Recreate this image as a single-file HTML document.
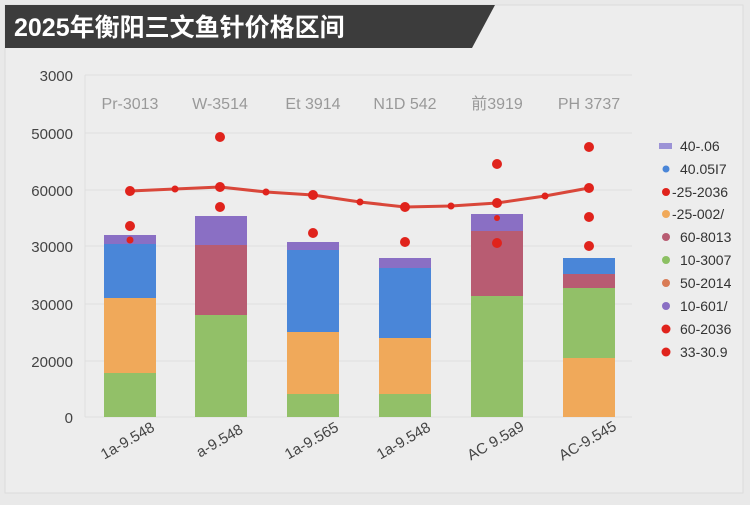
<!DOCTYPE html><html><head><meta charset="utf-8"><style>
body{margin:0;width:750px;height:500px;background:#e9e9e9;font-family:"Liberation Sans","Noto Sans CJK SC",sans-serif;overflow:hidden}
</style></head><body>
<svg width="750" height="500" xmlns="http://www.w3.org/2000/svg" font-family="Liberation Sans, Noto Sans CJK SC, sans-serif">
<rect x="5" y="5" width="738" height="488" fill="#ededed" stroke="#dcdcdc"/>
<polygon points="5,5 495,5 472,48 5,48" fill="#3c3c3c"/>
<text x="14" y="36" font-size="25" font-weight="bold" fill="#fff">2025年衡阳三文鱼针价格区间</text>
<g stroke="#dedede" stroke-width="1">
<line x1="85" y1="75" x2="632" y2="75"/><line x1="85" y1="133" x2="632" y2="133"/><line x1="85" y1="190" x2="632" y2="190"/><line x1="85" y1="246" x2="632" y2="246"/><line x1="85" y1="304" x2="632" y2="304"/><line x1="85" y1="361" x2="632" y2="361"/><line x1="85" y1="417" x2="632" y2="417"/><line x1="85" y1="75" x2="85" y2="417"/>
</g>
<g font-size="15" fill="#444" text-anchor="end">
<text x="73" y="81">3000</text><text x="73" y="139">50000</text><text x="73" y="196">60000</text><text x="73" y="252">30000</text><text x="73" y="310">30000</text><text x="73" y="367">20000</text><text x="73" y="423">0</text>
</g>
<g font-size="16" fill="#999" text-anchor="middle">
<text x="130" y="109">Pr-3013</text><text x="220" y="109">W-3514</text><text x="313" y="109">Et 3914</text><text x="405" y="109">N1D 542</text><text x="497" y="109">前3919</text><text x="589" y="109">PH 3737</text>
</g>
<rect x="104" y="373" width="52" height="44" fill="#92c068"/><rect x="104" y="298" width="52" height="75" fill="#f0a95a"/><rect x="104" y="244" width="52" height="54" fill="#4a86d8"/><rect x="104" y="235" width="52" height="9" fill="#8a6fc4"/>
<rect x="195" y="315" width="52" height="102" fill="#92c068"/><rect x="195" y="245" width="52" height="70" fill="#b85c72"/><rect x="195" y="216" width="52" height="29" fill="#8a6fc4"/>
<rect x="287" y="394" width="52" height="23" fill="#92c068"/><rect x="287" y="332" width="52" height="62" fill="#f0a95a"/><rect x="287" y="250" width="52" height="82" fill="#4a86d8"/><rect x="287" y="242" width="52" height="8" fill="#8a6fc4"/>
<rect x="379" y="394" width="52" height="23" fill="#92c068"/><rect x="379" y="338" width="52" height="56" fill="#f0a95a"/><rect x="379" y="268" width="52" height="70" fill="#4a86d8"/><rect x="379" y="258" width="52" height="10" fill="#8a6fc4"/>
<rect x="471" y="296" width="52" height="121" fill="#92c068"/><rect x="471" y="231" width="52" height="65" fill="#b85c72"/><rect x="471" y="214" width="52" height="17" fill="#8a6fc4"/>
<rect x="563" y="358" width="52" height="59" fill="#f0a95a"/><rect x="563" y="288" width="52" height="70" fill="#92c068"/><rect x="563" y="274" width="52" height="14" fill="#b85c72"/><rect x="563" y="258" width="52" height="16" fill="#4a86d8"/>
<polyline points="130,191 175,189 220,187 266,192 313,195 360,202 405,207 451,206 497,203 545,196 589,188" fill="none" stroke="#d9473a" stroke-width="3"/>
<g fill="#e0231c">
<circle cx="130" cy="191" r="5"/><circle cx="175" cy="189" r="3.5"/><circle cx="220" cy="187" r="5"/><circle cx="266" cy="192" r="3.5"/><circle cx="313" cy="195" r="5"/><circle cx="360" cy="202" r="3.5"/><circle cx="405" cy="207" r="5"/><circle cx="451" cy="206" r="3.5"/><circle cx="497" cy="203" r="5"/><circle cx="545" cy="196" r="3.5"/><circle cx="589" cy="188" r="5"/>
<circle cx="130" cy="226" r="5"/><circle cx="130" cy="240" r="3.5"/><circle cx="220" cy="137" r="5"/><circle cx="220" cy="207" r="5"/><circle cx="313" cy="233" r="5"/><circle cx="405" cy="242" r="5"/><circle cx="497" cy="164" r="5"/><circle cx="497" cy="243" r="5"/><circle cx="497" cy="218" r="3"/><circle cx="589" cy="147" r="5"/><circle cx="589" cy="217" r="5"/><circle cx="589" cy="246" r="5"/>
</g>
<g font-size="15" fill="#444" text-anchor="middle">
<text transform="translate(130,445) rotate(-30)">1a-9.548</text><text transform="translate(222,445) rotate(-30)">a-9.548</text><text transform="translate(314,445) rotate(-30)">1a-9.565</text><text transform="translate(406,445) rotate(-30)">1a-9.548</text><text transform="translate(498,445) rotate(-30)">AC 9.5a9</text><text transform="translate(590,445) rotate(-30)">AC-9.545</text>
</g>
<g font-size="14" fill="#333">
<rect x="659" y="143" width="13" height="6" fill="#9c93d6"/><text x="680" y="151">40-.06</text>
<circle cx="666" cy="169" r="3.5" fill="#4a86d8"/><text x="680" y="174">40.05I7</text>
<circle cx="666" cy="192" r="4" fill="#e0231c"/><text x="672" y="197">-25-2036</text>
<circle cx="666" cy="214" r="4" fill="#f0a95a"/><text x="672" y="219">-25-002/</text>
<circle cx="666" cy="237" r="4" fill="#b85c72"/><text x="680" y="242">60-8013</text>
<circle cx="666" cy="260" r="4" fill="#8cc063"/><text x="680" y="265">10-3007</text>
<circle cx="666" cy="283" r="4" fill="#d97b55"/><text x="680" y="288">50-2014</text>
<circle cx="666" cy="306" r="4" fill="#8a6fc4"/><text x="680" y="311">10-601/</text>
<circle cx="666" cy="329" r="4.5" fill="#e0231c"/><text x="680" y="334">60-2036</text>
<circle cx="666" cy="352" r="4.5" fill="#e0231c"/><text x="680" y="357">33-30.9</text>
</g>
</svg>
</body></html>
